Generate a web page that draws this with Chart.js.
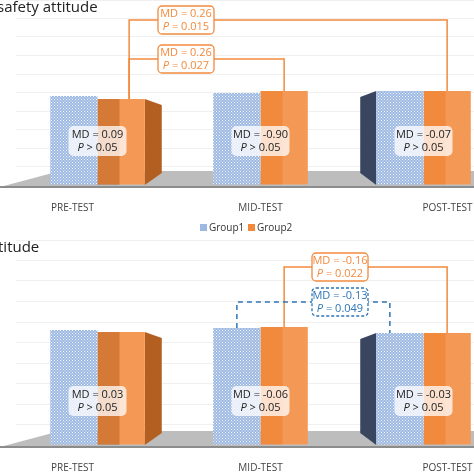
<!DOCTYPE html><html><head><script src="https://cdn.jsdelivr.net/npm/chart.js@4"></script>
<style>body{margin:0;width:474px;height:474px;overflow:hidden;background:#fff;font-family:"Open Sans",sans-serif;position:relative}
.w{position:absolute;left:0;width:505px}.t{position:absolute;left:0;font-size:15px;color:#222;z-index:2}</style></head><body>
<div class="t" style="top:-4px;left:-3px">safety attitude</div>
<div class="t" style="top:236px;left:-2px">titude</div>
<div class="w" style="top:0;height:240px"><canvas id="c1"></canvas></div>
<div class="w" style="top:240px;height:234px"><canvas id="c2"></canvas></div>
<script>
const categories=["PRE-TEST","MID-TEST","POST-TEST"];
const top_g1=[4.81,4.97,5.08], top_g2=[4.65,5.08,5.08];
const bot_g1=[5.61,5.71,5.46], bot_g2=[5.51,5.76,5.46];
const top_inner=[["MD = 0.09","> 0.05"],["MD = -0.90","> 0.05"],["MD = -0.07","> 0.05"]];
const bot_inner=[["MD = 0.03","> 0.05"],["MD = -0.06","> 0.05"],["MD = -0.03","> 0.05"]];
const ORANGE="#f28a3e", BLUE="#2e75b6";

function pattern(){const c=document.createElement('canvas');c.width=c.height=3;const x=c.getContext('2d');
x.fillStyle='#9db8e3';x.fillRect(0,0,3,3);x.fillStyle='#f4f7fc';x.fillRect(0,0,1,1);x.fillRect(1.5,1.5,1,1);
return x.createPattern(c,'repeat');}
function rr(ctx,x,y,w,h,r){ctx.beginPath();ctx.roundRect(x,y,w,h,r);}
function box(ctx,cx,cy,l1,l2,col,dash){const w=56,h=28;ctx.save();rr(ctx,cx-w/2,cy-h/2,w,h,4);ctx.fillStyle='#fff';ctx.fill();
ctx.setLineDash(dash?[3,2]:[]);ctx.strokeStyle=col;ctx.lineWidth=1.3;ctx.stroke();ctx.restore();txt(ctx,cx,cy,l1,l2,col);}
function txt(ctx,cx,cy,l1,l2,col){ctx.save();ctx.fillStyle=col;ctx.textAlign='center';ctx.textBaseline='middle';
ctx.font='11px "Open Sans"';ctx.fillText(l1,cx,cy-6);
const w1=ctx.measureText(l2).width;ctx.font='italic 11px "Open Sans"';const wp=ctx.measureText('P ').width;
const sx=cx-(w1+wp)/2;ctx.textAlign='left';ctx.fillText('P ',sx,cy+7);ctx.font='11px "Open Sans"';ctx.fillText(l2,sx+wp,cy+7);ctx.restore();}

function make(id,g1,g2,inner,legend,brackets,padB){
 const deco={id:'deco',
 beforeDatasetsDraw(ch){const ctx=ch.ctx,a=ch.chartArea,b=a.bottom;ctx.save();
  ctx.fillStyle='#bdbdbd';ctx.beginPath();ctx.moveTo(0,b+2);ctx.lineTo(60,b-14);ctx.lineTo(505,b-14);ctx.lineTo(505,b+2);ctx.fill();
  ctx.fillStyle='#8c8c8c';ctx.fillRect(0,b+1,505,2);
  const m1=ch.getDatasetMeta(0).data,m2=ch.getDatasetMeta(1).data;
  const p=m2[0];ctx.fillStyle='#b35f22';ctx.beginPath();ctx.moveTo(p.x+p.width/2,p.y);ctx.lineTo(p.x+p.width/2+17,p.y+6);ctx.lineTo(p.x+p.width/2+17,b-12);ctx.lineTo(p.x+p.width/2,b);ctx.fill();
  const q=m1[2];ctx.fillStyle='#3a4560';ctx.beginPath();ctx.moveTo(q.x-q.width/2,q.y);ctx.lineTo(q.x-q.width/2-16,q.y+6);ctx.lineTo(q.x-q.width/2-16,b-12);ctx.lineTo(q.x-q.width/2,b);ctx.fill();
  ctx.restore();},
 afterDatasetsDraw(ch){const ctx=ch.ctx,x=ch.scales.x,m1=ch.getDatasetMeta(0).data,m2=ch.getDatasetMeta(1).data,b=ch.chartArea.bottom;
  ctx.save();ctx.fillStyle='rgba(255,255,255,0.12)';m2.forEach(p=>ctx.fillRect(p.x-p.width/2+22,p.y,p.width-22,b-p.y));
  ctx.fillStyle='rgba(0,0,0,0.12)';ctx.fillRect(m2[0].x-m2[0].width/2,m2[0].y,22,b-m2[0].y);
  ctx.fillStyle='#444';ctx.font='10px "Open Sans"';ctx.textAlign='center';ctx.textBaseline='middle';
  const offs=[-25,0,24];categories.forEach((c,i)=>ctx.fillText(c,x.getPixelForValue(i)+offs[i],b+23));
  if(legend){ctx.textAlign='left';ctx.fillStyle='#9db8e3';ctx.fillRect(200,b+39,7,7);ctx.fillStyle='#333';ctx.fillText('Group1',209,b+43);
   ctx.fillStyle=ORANGE;ctx.fillRect(248,b+39,7,7);ctx.fillStyle='#333';ctx.fillText('Group2',257,b+43);}
  ctx.restore();
  inner.forEach((t,i)=>{const cx=x.getPixelForValue(i),cy=b-44;ctx.save();rr(ctx,cx-29,cy-15,58,30,5);ctx.fillStyle='rgba(255,255,255,0.75)';ctx.fill();ctx.restore();txt(ctx,cx,cy,t[0],t[1],'#222');});
  brackets.forEach(k=>{const ms=k.ds==0?m1:m2,a=ms[k.from],c=ms[k.to],ax=a.x+k.off,cx2=c.x+k.off2;ctx.save();ctx.strokeStyle=k.col;ctx.lineWidth=1.5;ctx.setLineDash(k.dash?[5,4]:[]);
   ctx.beginPath();ctx.moveTo(ax,a.y);ctx.lineTo(ax,k.y);ctx.lineTo(cx2,k.y);ctx.lineTo(cx2,c.y);ctx.stroke();ctx.restore();
   box(ctx,k.bx,k.y,k.l1,k.l2,k.col,k.dash);});
 }};
 return new Chart(document.getElementById(id),{type:'bar',
 data:{labels:categories,datasets:[{label:'Group1',data:g1,backgroundColor:pattern()},{label:'Group2',data:g2,backgroundColor:ORANGE}]},
 options:{responsive:true,maintainAspectRatio:false,animation:false,layout:{padding:{left:16,top:0,bottom:padB,right:0}},
  datasets:{bar:{categoryPercentage:0.58,barPercentage:1}},
  scales:{y:{display:true,min:0,max:10,ticks:{display:false},border:{display:false},grid:{color:'#f0f0f0',drawTicks:false}},
   x:{display:false}},
  plugins:{tooltip:{enabled:false},legend:{display:false}}},
 plugins:[deco]});}
make('c1',top_g1,top_g2,top_inner,true,[
 {ds:1,from:0,to:2,off:8,off2:0,y:20,bx:186,l1:'MD = 0.26',l2:'= 0.015',col:ORANGE},
 {ds:1,from:0,to:1,off:8,off2:0,y:59,bx:186,l1:'MD = 0.26',l2:'= 0.027',col:ORANGE}],55);
make('c2',bot_g1,bot_g2,bot_inner,false,[
 {ds:1,from:1,to:2,off:0,off2:0,y:27,bx:340,l1:'MD = -0.16',l2:'= 0.022',col:ORANGE},
 {ds:0,from:1,to:2,off:0,off2:-10,y:62,bx:340,l1:'MD = -0.13',l2:'= 0.049',col:BLUE,dash:true}],29);
</script></body></html>
